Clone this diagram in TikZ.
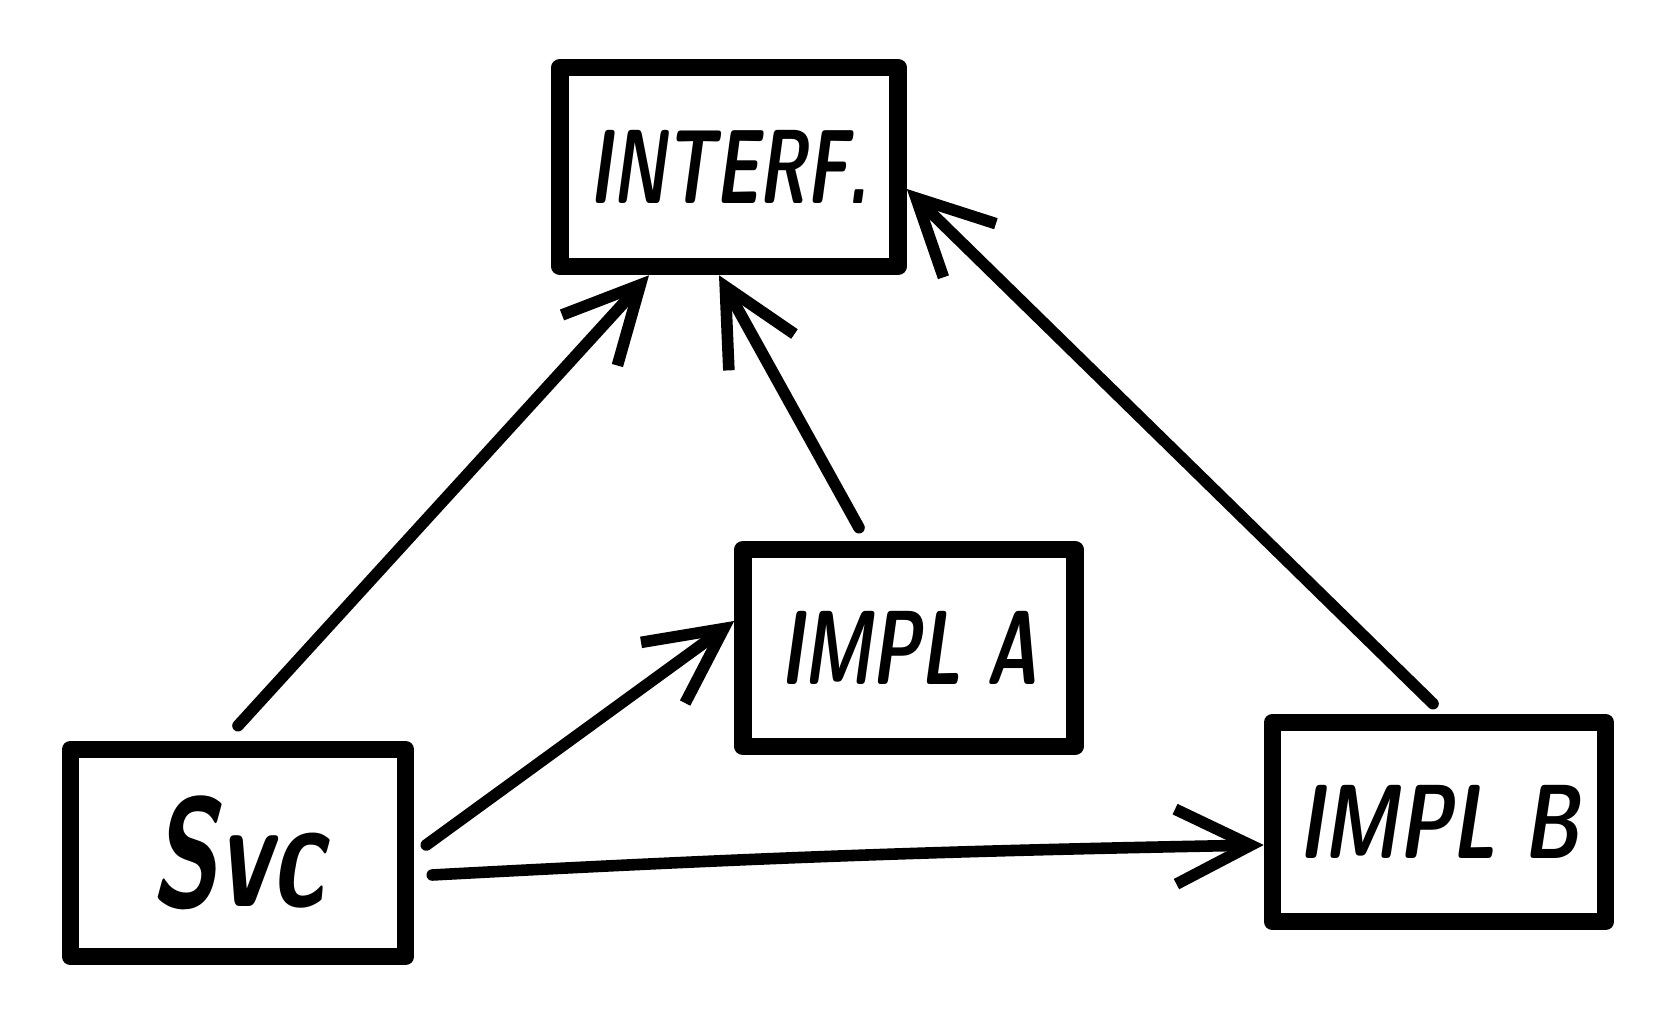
\documentclass[tikz,border=0pt]{standalone}
\usepackage{graphicx}
\usepackage{tikz}
\usetikzlibrary{arrows.meta,calc}

% squeeze the letters a bit, like the handwriting
\newcommand{\hw}[2][0.66]{\scalebox{#1}[1]{#2}}

\begin{document}
\begin{tikzpicture}[
    box/.style={draw, line width=5pt, line join=round,
                minimum width=3.35cm, minimum height=2cm,
                font=\sffamily\bfseries\itshape\fontsize{30}{30}\selectfont},
    dep/.style={-{Straight Barb[length=7.5mm,width=7.5mm]},
                line width=3.3pt, line cap=round}
]
    \useasboundingbox (0,0) rectangle (16.57,10.17);

    \node[box, minimum width=3.38cm, minimum height=1.99cm]
        (intf) at (7.29,8.50) {\hw[0.64]{INTERF.}};
    \node[box, minimum width=3.32cm, minimum height=1.97cm]
        (impla) at (9.09,3.69) {\hw[0.66]{IMPL A}};
    \node[box, minimum width=3.33cm, minimum height=1.99cm]
        (implb) at (14.39,1.95) {\hw[0.72]{IMPL B}};
    \node[box, minimum width=3.35cm, minimum height=2.07cm,
          font=\sffamily\bfseries\itshape\fontsize{44}{44}\selectfont]
        (svc) at (2.38,1.64) {\hw[0.7]{Svc}\hspace{4mm}};

    % everything points up to the interface
    \draw[dep] ([yshift=1.5mm]svc.north) -- ([xshift=-8mm]intf.south);
    \draw[dep] ([xshift=-5mm,yshift=1.3mm]impla.north) -- ([xshift=-1mm]intf.south);
    \draw[dep] ([xshift=-0.6mm,yshift=1mm]implb.north) -- ([yshift=-2.2mm]intf.east);

    % service uses both implementations
    \draw[dep] ([xshift=1.2mm,yshift=0.8mm]svc.east) -- ([yshift=2.7mm]impla.west);
    \draw[dep] ([xshift=1.8mm,yshift=-2.2mm]svc.east) to[bend left=1] ([yshift=-2.3mm]implb.west);
\end{tikzpicture}
\end{document}
